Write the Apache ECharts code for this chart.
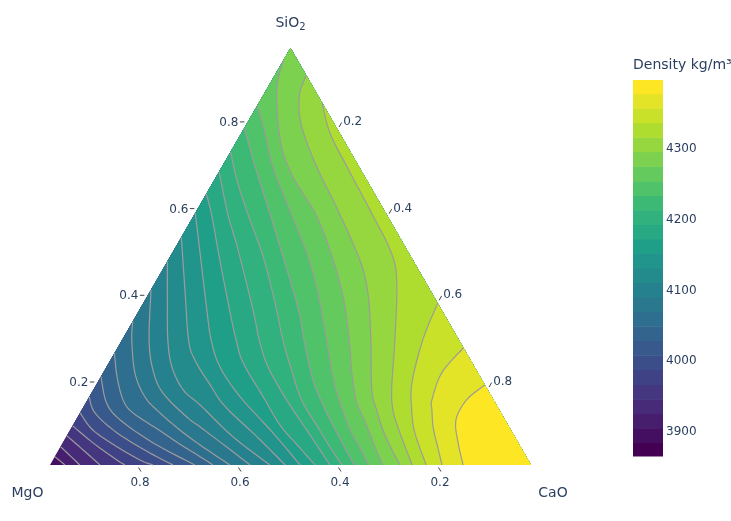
<!DOCTYPE html>
<html>
<head>
<meta charset="utf-8">
<style>html,body{margin:0;padding:0;background:#fff;overflow:hidden}#main{width:731px;height:521px}</style>
<script src="https://cdn.jsdelivr.net/npm/echarts@6/dist/echarts.min.js"></script>
</head>
<body>
<div id="main"></div>
<script>
// colour bar
const barBreaks = [3866, 3885, 3905.5, 3926, 3946.5, 3967, 3988, 4008.5, 4029, 4049.5, 4070, 4091, 4111.5, 4132, 4152.5, 4173, 4193.5, 4214, 4234.5, 4255, 4276, 4296.5, 4317, 4337.5, 4358, 4378.5, 4398];
const barTicks = [3900, 4000, 4100, 4200, 4300];
const viridis = ['#440154', '#482878', '#3e4989', '#31688e', '#26828e', '#1f9e89', '#35b779', '#6ece58', '#b5de2b', '#fde725'];

// ternary axes
const cornerNames = ['SiO{sub|2}', 'MgO', 'CaO'];
const siTicks = [0.2, 0.4, 0.6, 0.8];
const mgTicks = [0.8, 0.6, 0.4, 0.2];
const caTicks = [0.2, 0.4, 0.6, 0.8];
const siMin = 0.0085, mgMin = 0.014, caMin = 0.0155, ternSpan = 0.962;

// contour lines, low to high, [SiO2, CaO] as shares of the drawn triangle
const contourLines = [
  [[.020, 0], [0, .031]],
  [[.044, 0], [0, .062]],
  [[.070, 0], [.036, .051], [0, .104]],
  [[.094, 0], [.053, .063], [.012, .133], [0, .156]],
  [[.125, 0], [.084, .047], [.044, .117], [.012, .181], [0, .214]],
  [[.163, 0], [.125, .031], [.077, .101], [.029, .193], [0, .256]],
  [[.212, 0], [.149, .043], [.108, .092], [.053, .188], [0, .301]],
  [[.268, 0], [.211, .034], [.156, .074], [.125, .110], [.082, .188], [.050, .245], [.020, .302], [0, .339]],
  [[.344, 0], [.300, .020], [.221, .066], [.163, .116], [.125, .166], [.084, .228], [.048, .288], [0, .374]],
  [[.420, 0], [.300, .056], [.228, .100], [.173, .148], [.115, .227], [.091, .267], [.046, .341], [0, .416]],
  [[.488, 0], [.396, .046], [.300, .095], [.235, .136], [.180, .187], [.144, .240], [.068, .346], [0, .457]],
  [[.546, 0], [.412, .075], [.300, .138], [.252, .175], [.192, .237], [.141, .293], [.068, .396], [0, .489]],
  [[.604, 0], [.508, .058], [.372, .140], [.300, .185], [.236, .235], [.164, .313], [.077, .425], [0, .520]],
  [[.650, 0], [.600, .036], [.492, .107], [.365, .192], [.300, .237], [.245, .279], [.164, .361], [.096, .430], [.048, .490], [0, .551]],
  [[.703, 0], [.600, .070], [.516, .133], [.372, .236], [.300, .285], [.236, .335], [.156, .414], [.068, .509], [0, .582]],
  [[.751, 0], [.683, .047], [.600, .112], [.500, .193], [.388, .274], [.300, .334], [.228, .388], [.156, .445], [.089, .513], [.036, .568], [0, .607]],
  [[.808, 0], [.715, .069], [.600, .158], [.388, .319], [.300, .378], [.213, .438], [.156, .485], [.096, .540], [.017, .616], [0, .634]],
  [[.862, 0], [.796, .049], [.715, .106], [.611, .193], [.508, .280], [.412, .351], [.300, .425], [.212, .482], [.156, .523], [.084, .582], [.041, .624], [0, .663]],
  [[.971, 0], [.899, .022], [.779, .089], [.707, .145], [.655, .196], [.600, .253], [.508, .330], [.403, .408], [.300, .472], [.221, .517], [.156, .558], [.132, .578], [.091, .614], [.043, .654], [0, .692]],
  [[.935, .065], [.882, .077], [.811, .118], [.715, .197], [.611, .293], [.492, .398], [.412, .455], [.300, .517], [.180, .579], [.132, .613], [.084, .650], [.036, .693], [0, .728]],
  [[.868, .132], [.796, .184], [.715, .260], [.611, .360], [.508, .456], [.436, .503], [.300, .567], [.187, .617], [.132, .647], [.077, .689], [0, .753]],
  [[.388, .612], [.300, .625], [.197, .654], [.132, .686], [.077, .720], [0, .782]],
  [[.281, .719], [.221, .704], [.156, .716], [.132, .728], [.091, .751], [.048, .781], [0, .815]],
  [[.192, .808], [.156, .788], [.108, .790], [.053, .822], [0, .859]]
];

const textColor = '#2a3f5f';
const fontName = '"DejaVu Sans", verdana, sans-serif';

function bandColor(i) {
  return echarts.color.lerp(i / (barBreaks.length - 2), viridis);
}

function toXY(p) {
  return [p[1] + p[0] / 2, p[0]];
}

// Catmull-Rom through the read points, in screen space
function smoothLine(pts) {
  let out = [];
  for (let i = 0; i < pts.length - 1; i++) {
    let p0 = pts[Math.max(i - 1, 0)], p1 = pts[i], p2 = pts[i + 1], p3 = pts[Math.min(i + 2, pts.length - 1)];
    for (let k = 0; k < 8; k++) {
      let t = k / 8, t2 = t * t, t3 = t2 * t;
      out.push([0, 1].map(function (d) {
        return 0.5 * (2 * p1[d] + (p2[d] - p0[d]) * t + (2 * p0[d] - 5 * p1[d] + 4 * p2[d] - p3[d]) * t2 + (3 * p1[d] - p0[d] - 3 * p2[d] + p3[d]) * t3);
      }));
    }
  }
  out.push(pts[pts.length - 1]);
  return out;
}

function linePixels(api, line) {
  return smoothLine(line.map(function (p) { return api.coord(toXY(p)); }));
}

function renderFill(params, api) {
  let i = api.value(0);
  if (i < 0) {
    let tri = [[1, 0], [0, 0], [0, 1]].map(function (p) { return api.coord(toXY(p)); });
    return { type: 'polygon', shape: { points: tri }, style: { fill: bandColor(1) } };
  }
  let line = contourLines[i];
  let pts = linePixels(api, line);
  pts.push(api.coord(toXY([0, 1])));
  if (line[0][1] === 0) pts.push(api.coord(toXY([1, 0])));
  return { type: 'polygon', shape: { points: pts }, style: { fill: bandColor(i + 2) } };
}

function renderContour(params, api) {
  return {
    type: 'polyline',
    shape: { points: linePixels(api, contourLines[api.value(0)]) },
    style: { fill: null, stroke: '#9c9c9c', lineWidth: 1.2 }
  };
}

function tickSeries(ticks, place, from, to, labelAt, align) {
  return {
    type: 'custom',
    coordinateSystem: 'cartesian2d',
    silent: true,
    animation: false,
    data: ticks.map(function (v) { return [v]; }),
    renderItem: function (params, api) {
      let v = api.value(0);
      let e = api.coord(toXY(place(v)));
      return {
        type: 'group',
        children: [{
          type: 'line',
          shape: { x1: e[0] + from[0], y1: e[1] + from[1], x2: e[0] + to[0], y2: e[1] + to[1] },
          style: { stroke: '#444', lineWidth: 1 }
        }, {
          type: 'text',
          style: {
            x: e[0] + labelAt[0], y: e[1] + labelAt[1], text: v.toFixed(1), fill: textColor,
            font: '12px ' + fontName, align: align, verticalAlign: 'middle'
          }
        }]
      };
    }
  };
}

const cornerAt = [[1, 0], [0, 0], [0, 1]];
const cornerShift = [[0, -25], [-22.5, 28.5], [22, 28.5]];

const option = {
  backgroundColor: '#fff',
  animation: false,
  title: {
    text: 'Density kg/m³',
    left: 633, top: 58.5, padding: 0,
    textStyle: { color: textColor, fontFamily: fontName, fontSize: 14, fontWeight: 'normal' }
  },
  grid: [
    { left: 50, top: 48, width: 481, height: 417 },
    { left: 633, top: 80, width: 30, height: 376 }
  ],
  xAxis: [
    { type: 'value', min: 0, max: 1, show: false, gridIndex: 0 },
    { type: 'value', min: 0, max: 1, show: false, gridIndex: 1 }
  ],
  yAxis: [
    { type: 'value', min: 0, max: 1, show: false, gridIndex: 0 },
    {
      type: 'value', min: barBreaks[0], max: barBreaks[barBreaks.length - 1], gridIndex: 1, position: 'right',
      splitLine: { show: false }, axisLine: { show: false }, axisTick: { show: false },
      axisLabel: {
        customValues: barTicks, color: textColor, fontFamily: fontName, fontSize: 12, margin: 3,
        padding: [2, 0, 0, 0],
        formatter: function (v) { return String(v); }
      }
    }
  ],
  series: [
    {
      type: 'custom', silent: true, animation: false,
      data: [[-1]].concat(contourLines.map(function (l, i) { return [i]; })),
      renderItem: renderFill
    },
    {
      type: 'custom', silent: true, animation: false,
      data: contourLines.map(function (l, i) { return [i]; }),
      renderItem: renderContour
    },
    tickSeries(siTicks, function (v) { return [(v - siMin) / ternSpan, 0]; }, [-3.5, 0], [-8, 0], [-9.5, 0.8], 'right'),
    tickSeries(mgTicks, function (v) { return [0, 1 - (v - mgMin) / ternSpan]; }, [0.5, 2.5], [3, 6.5], [2, 18], 'center'),
    tickSeries(caTicks, function (v) { return [1 - (v - caMin) / ternSpan, (v - caMin) / ternSpan]; }, [2.5, -1], [5, -5.5], [6.5, -6], 'left'),
    {
      type: 'custom', silent: true, animation: false,
      data: cornerNames.map(function (n, i) { return [i]; }),
      renderItem: function (params, api) {
        let i = api.value(0);
        let c = api.coord(toXY(cornerAt[i]));
        return {
          type: 'text',
          style: {
            x: c[0] + cornerShift[i][0], y: c[1] + cornerShift[i][1], text: cornerNames[i], fill: textColor,
            font: '14px ' + fontName, align: 'center', verticalAlign: 'middle',
            rich: { sub: { fontSize: 10, fontFamily: fontName, fill: textColor, padding: [8, 0, 0, 0] } }
          }
        };
      }
    },
    {
      type: 'custom', silent: true, animation: false, xAxisIndex: 1, yAxisIndex: 1,
      data: barBreaks.slice(0, -1).map(function (b, i) { return [b, barBreaks[i + 1], i]; }),
      renderItem: function (params, api) {
        let a = api.coord([0, api.value(1)]);
        let b = api.coord([1, api.value(0)]);
        return {
          type: 'rect',
          shape: { x: a[0], y: a[1], width: b[0] - a[0], height: b[1] - a[1] + 0.5 },
          style: { fill: bandColor(api.value(2)) }
        };
      }
    }
  ]
};

const myChart = echarts.init(document.getElementById('main'), null, { renderer: 'canvas' });
myChart.setOption(option);
</script>
</body>
</html>
